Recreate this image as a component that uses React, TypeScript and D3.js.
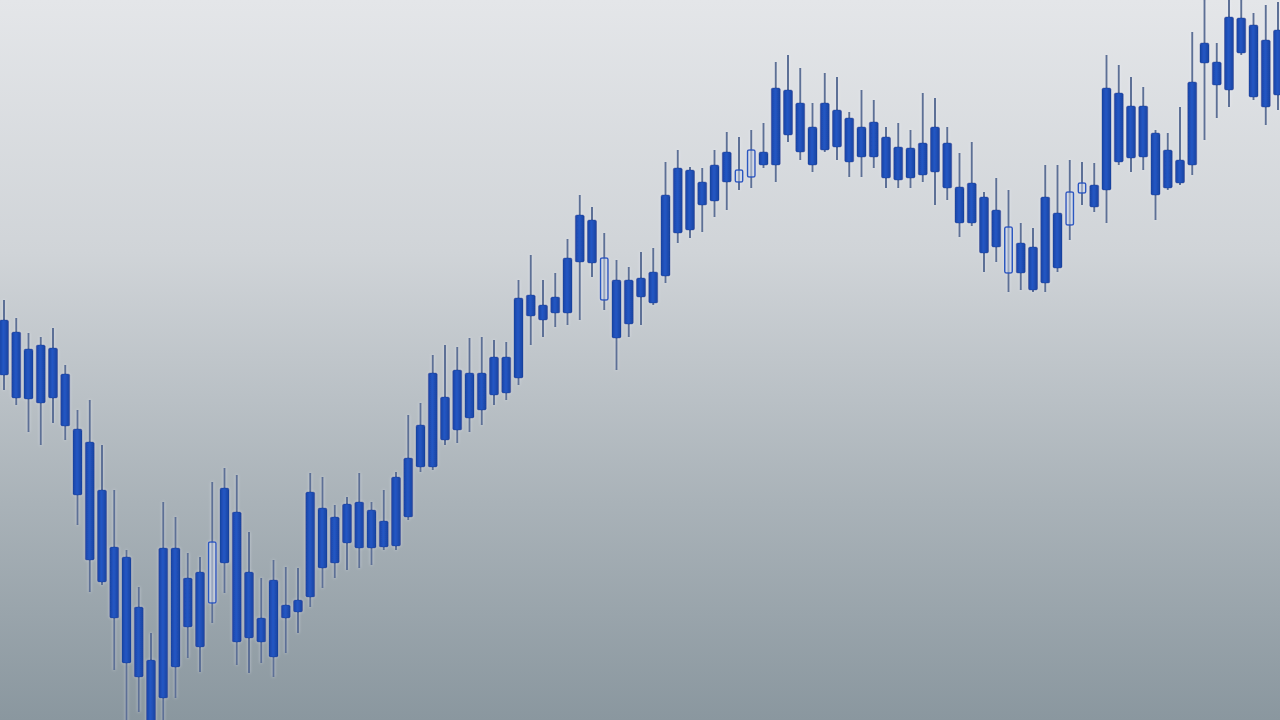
import React from "react";
import * as d3 from "d3";

// OHLC values (index = session)
const highs = [90.0,88.2,86.7,86.3,87.2,83.5,79.0,80.0,75.5,71.0,65.0,61.3,56.7,69.8,68.3,64.7,64.3,71.8,73.2,72.5,66.8,62.2,64.0,63.3,63.2,72.7,72.3,69.5,70.3,72.7,69.8,71.0,72.8,78.5,79.7,84.5,85.5,85.3,86.2,86.3,86.0,85.8,92.0,94.5,92.0,92.7,96.1,100.5,99.3,96.7,94.0,93.3,94.8,95.2,103.8,105.0,103.3,103.2,105.0,106.8,106.3,107.0,107.7,113.8,114.5,113.2,109.7,112.7,112.3,108.8,111.0,110.0,107.3,107.7,107.0,110.7,110.2,107.3,104.7,105.8,100.8,102.2,101.0,97.7,97.2,103.5,103.5,104.0,103.8,103.7,114.5,113.5,112.3,111.3,107.0,106.7,109.3,116.8,120.0,115.7,120.0,120.0,118.7,119.5,119.8];
const lows = [81.0,79.5,76.8,75.5,77.7,76.0,67.5,60.8,61.5,53.0,47.5,48.8,46.5,47.5,50.2,54.2,52.8,57.7,60.7,53.5,52.7,53.7,52.3,54.7,56.7,59.3,61.2,62.2,63.0,63.2,63.5,65.0,65.0,68.0,72.8,73.0,75.5,75.7,76.8,77.5,79.5,80.0,81.5,85.5,86.3,87.3,87.5,88.0,92.3,89.0,83.0,86.3,87.5,89.5,91.7,95.7,96.2,96.8,98.3,99.0,101.0,101.2,103.2,101.8,105.8,104.0,102.8,104.8,104.0,102.3,102.3,103.2,101.2,101.2,101.2,101.8,99.5,100.0,96.3,97.4,92.8,93.8,90.8,91.0,90.8,90.8,92.8,96.0,99.5,98.8,97.7,103.5,102.8,103.0,98.0,101.0,101.5,102.5,106.0,108.2,109.3,114.5,110.0,107.5,109.0];
const bodyTops = [88.0,86.8,85.1,85.5,85.2,82.6,77.1,75.8,71.0,65.3,64.3,59.3,54.0,65.2,65.2,62.2,62.8,65.8,71.2,68.8,62.8,58.2,62.0,59.5,60.0,70.8,69.2,68.3,69.6,69.8,69.0,67.9,72.3,74.2,77.5,82.7,80.3,83.0,82.7,82.7,84.3,84.3,90.2,90.5,89.5,90.3,94.2,98.5,98.0,94.2,92.0,92.0,92.2,92.8,100.5,103.2,103.0,101.8,103.5,104.8,103.0,105.0,104.8,111.2,111.0,109.7,107.3,109.7,109.0,108.2,107.3,107.8,106.3,105.3,105.2,105.7,107.3,105.7,101.3,101.7,100.3,99.0,97.3,95.7,95.3,100.3,98.7,100.8,101.7,101.5,111.2,110.7,109.4,109.4,106.7,105.0,104.0,111.8,115.7,113.8,118.3,118.2,117.5,116.0,117.0];
const bodyBottoms = [82.5,80.2,80.1,79.7,80.2,77.4,70.5,64.0,61.8,58.2,53.7,52.3,47.5,50.2,53.3,57.3,55.3,59.7,63.7,55.8,56.2,55.8,54.3,58.2,58.8,60.3,63.2,63.7,65.7,65.2,65.2,65.3,65.4,68.3,73.3,73.3,76.0,77.0,78.2,79.0,80.5,80.7,82.2,88.4,88.0,88.7,88.7,93.8,93.7,90.0,86.2,87.6,90.3,89.7,92.4,96.7,97.0,99.5,99.9,101.8,101.8,102.3,103.5,103.5,106.5,104.8,103.5,105.0,105.3,103.8,104.3,104.3,102.2,102.0,102.2,102.5,102.8,101.2,97.7,97.7,94.7,95.3,92.7,92.7,91.0,91.7,93.2,97.5,100.7,99.3,101.0,103.8,104.2,104.3,100.5,101.2,101.7,103.5,113.7,111.5,111.0,114.7,110.3,109.3,110.5];
// sessions that closed above their open (drawn hollow)
const risingSessions = [17, 49, 60, 61, 82, 87, 88];

const opens = bodyTops.map((t, i) => (risingSessions.includes(i) ? bodyBottoms[i] : t));
const closes = bodyBottoms.map((b, i) => (risingSessions.includes(i) ? bodyTops[i] : b));

const W = 1280;
const H = 720;

export default function App() {
  const n = highs.length;
  const x = d3.scaleLinear().domain([0, n - 1]).range([4, 1278]);
  const y = d3.scaleLinear().domain([48, 120]).range([H, 0]);
  const bw = 9;

  return (
    <div style={{ position: "fixed", left: 0, top: 0, width: W, height: H }}>
      <svg width={W} height={H} style={{ display: "block" }}>
        <defs>
          <linearGradient id="bg" x1="0" y1="0" x2="0" y2="1">
            <stop offset="0" stopColor="#e4e6e9" />
            <stop offset="0.35" stopColor="#d0d4d8" />
            <stop offset="0.7" stopColor="#a9b2b8" />
            <stop offset="1" stopColor="#8a979f" />
          </linearGradient>
          <linearGradient id="body" x1="0" y1="0" x2="1" y2="0">
            <stop offset="0" stopColor="#1a44a6" />
            <stop offset="0.45" stopColor="#2457c4" />
            <stop offset="1" stopColor="#1a43a0" />
          </linearGradient>
          <filter id="glow" x="-50%" y="-10%" width="200%" height="120%">
            <feGaussianBlur in="SourceAlpha" stdDeviation="1.6" result="b" />
            <feFlood floodColor="#f0f4ff" floodOpacity="0.5" />
            <feComposite in2="b" operator="in" result="g" />
            <feMerge>
              <feMergeNode in="g" />
              <feMergeNode in="SourceGraphic" />
            </feMerge>
          </filter>
        </defs>
        <rect x={0} y={0} width={W} height={H} fill="url(#bg)" />
        <g filter="url(#glow)">
          {highs.map((h, i) => {
            const cx = x(i);
            const rising = closes[i] > opens[i];
            const top = y(Math.max(opens[i], closes[i]));
            const bot = y(Math.min(opens[i], closes[i]));
            return (
              <g key={i}>
                <line x1={cx} x2={cx} y1={y(h)} y2={y(lows[i])} stroke="#5d7096" strokeWidth={2} />
                {rising ? (
                  <rect x={cx - bw / 2 + 0.75} y={top} width={bw - 1.5} height={Math.max(1, bot - top)}
                    fill="#c9d2e2" fillOpacity={0.55} stroke="#2a58c0" strokeWidth={1.5} rx={1.5} />
                ) : (
                  <rect x={cx - bw / 2} y={top} width={bw} height={Math.max(1, bot - top)}
                    fill="url(#body)" stroke="#1a3f96" strokeWidth={0.6} rx={1.5} />
                )}
              </g>
            );
          })}
        </g>
      </svg>
    </div>
  );
}
